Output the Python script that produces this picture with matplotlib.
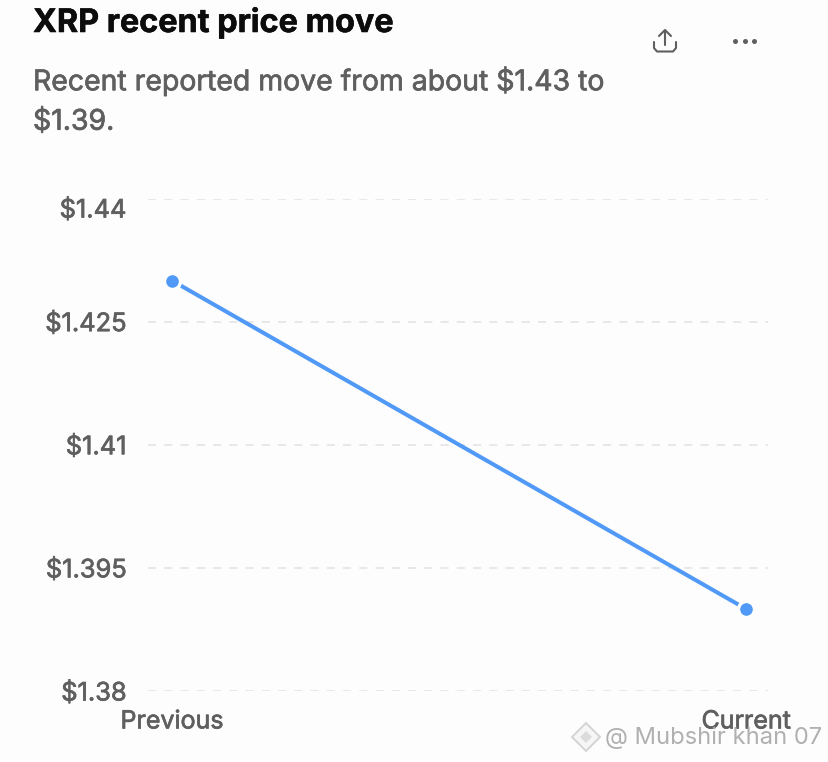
import matplotlib
matplotlib.use('Agg')
import matplotlib.pyplot as plt
import matplotlib.patheffects as pe
from matplotlib.patches import Polygon

plt.rcParams['font.family'] = ['Inter', 'DejaVu Sans']

categories = ['Previous', 'Current']
prices = [1.43, 1.39]
tick_values = [1.38, 1.395, 1.41, 1.425, 1.44]
tick_labels = ['$1.38', '$1.395', '$1.41', '$1.425', '$1.44']

W, H = 829, 762
BG = '#fdfdfd'
BLUE = '#5199f7'
GREY = '#5f5f5f'


def px_axes(x0, x1, y0, y1):
	# pixel box measured from the top left of the picture
	return [x0 / W, 1 - y1 / H, (x1 - x0) / W, (y1 - y0) / H]


def thicken(txt, w):
	# the Inter install only has regular and bold, fake the medium weight
	txt.set_path_effects([pe.withStroke(linewidth=w, foreground=txt.get_color())])


fig = plt.figure(figsize=(W / 100, H / 100), dpi=100, facecolor=BG)

ax = fig.add_axes(px_axes(148, 768, 198.5, 691))
ax.set_facecolor('none')
ax.plot(range(len(prices)), prices, color=BLUE, lw=2.9, marker='o', ms=11.5,
	mfc=BLUE, mec=BG, mew=2.4, solid_capstyle='butt', clip_on=False)
ax.set_xlim(-24 / 574, 1 + 22 / 574)
ax.set_ylim(1.38, 1.44)
ax.set_yticks(tick_values)
ax.set_yticklabels(tick_labels)
ax.set_xticks(range(len(categories)))
ax.set_xticklabels(categories)
ax.tick_params(axis='y', length=0, pad=15.3, labelsize=18.3, labelcolor=GREY)
ax.tick_params(axis='x', length=0, pad=14, labelsize=18, labelcolor=GREY)
ax.grid(axis='y', color='#e6e6e6', lw=1.3, linestyle=(0, (4.5, 4.5)))
for s in ax.spines.values():
	s.set_visible(False)
for lab in ax.get_yticklabels() + ax.get_xticklabels():
	thicken(lab, 0.5)
# top label is pushed down to stay inside the plot box
ax.get_yticklabels()[-1].set_va('top')

# header, icons and watermark sit on an overlay in pixel coordinates
ov = fig.add_axes([0, 0, 1, 1])
ov.set_xlim(0, W)
ov.set_ylim(H, 0)
ov.axis('off')
ov.patch.set_alpha(0)

title = ov.text(33, 23, 'XRP recent price move', fontsize=23.3, fontweight='bold',
	color='#0c0c0c', va='center', ha='left')
thicken(title, 0.4)
sub1 = ov.text(33, 81, 'Recent reported move from about $1.43 to', fontsize=20.45,
	color=GREY, va='center', ha='left')
sub2 = ov.text(33, 122, '$1.39.', fontsize=20.45, color=GREY, va='center', ha='left')
thicken(sub1, 0.5)
thicken(sub2, 0.5)

# share icon
ov.plot([654, 654, 657, 673, 676, 676], [42, 48, 51.5, 51.5, 48, 42],
	color=GREY, lw=1.5, solid_joinstyle='round', solid_capstyle='round')
ov.plot([665, 665], [45, 31], color=GREY, lw=1.5, solid_capstyle='round')
ov.plot([659, 665, 671], [36, 30, 36], color=GREY, lw=1.5,
	solid_capstyle='round', solid_joinstyle='round')
# more dots
ov.plot([735, 745, 754], [40.5, 40.5, 40.5], 'o', color=GREY, ms=3.6, mew=0)

# watermark
ov.add_patch(Polygon([(586, 723), (600, 737), (586, 751), (572, 737)], closed=True,
	fc='#f6f6f6', ec='#d4d4d4', lw=1.4))
ov.add_patch(Polygon([(586, 731), (592, 737), (586, 743), (580, 737)], closed=True,
	fc='#dcdcdc', ec='none'))
ov.text(605, 738, '@ Mubshir khan 07', fontsize=17.1, color='#a8a8a8', alpha=0.9,
	va='center', ha='left')

fig.savefig('out.png', dpi=100, facecolor=BG)
